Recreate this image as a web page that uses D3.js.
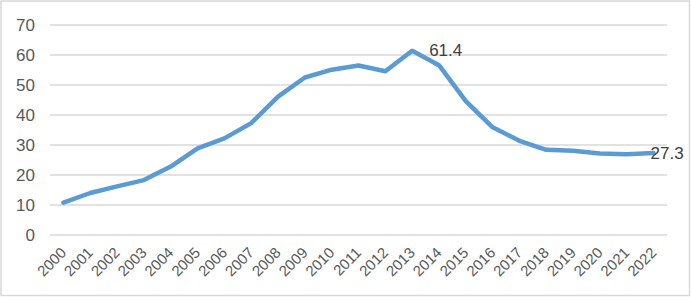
<!DOCTYPE html>
<html>
<head>
<meta charset="utf-8">
<script src="https://cdn.jsdelivr.net/npm/d3@7"></script>
<style>
  body { margin: 0; background: #fff; }
  text { font-family: "Liberation Sans", Arial, sans-serif; }
</style>
</head>
<body>
<div id="wrapper"></div>
<script>
const years = ["2000","2001","2002","2003","2004","2005","2006","2007","2008","2009","2010",
    "2011","2012","2013","2014","2015","2016","2017","2018","2019","2020","2021","2022"];
const values = [10.8, 14.0, 16.2, 18.3, 22.8, 28.9, 32.2, 37.3, 46.1, 52.5, 55.1,
    56.5, 54.6, 61.4, 56.6, 44.6, 35.9, 31.4, 28.4, 28.1, 27.2, 26.9, 27.3];
const yTicks = [0, 10, 20, 30, 40, 50, 60, 70];
const labelled = ["2013", "2022"];

const dimension = {
    width: 691,
    height: 297,
    margin: { top: 25, left: 50, bottom: 62, right: 24 }
};
dimension.boundedWidth = dimension.width - dimension.margin.left - dimension.margin.right;
dimension.boundedHeight = dimension.height - dimension.margin.top - dimension.margin.bottom;

const wrapper = d3.select("#wrapper")
    .append("svg")
    .attr("width", dimension.width)
    .attr("height", dimension.height);

// outer chart border
wrapper.append("rect")
    .attr("x", 1).attr("y", 1)
    .attr("width", dimension.width - 2.5)
    .attr("height", dimension.height - 2.5)
    .attr("fill", "none")
    .attr("stroke", "#d9d9d9")
    .attr("stroke-width", 1.5);

const bounded = wrapper.append("g")
    .attr("transform", `translate(${dimension.margin.left},${dimension.margin.top})`);

const xScaler = d3.scaleBand()
    .domain(years)
    .range([0, dimension.boundedWidth]);

const yScaler = d3.scaleLinear()
    .domain([0, 70])
    .range([dimension.boundedHeight, 0]);

const xCenter = d => xScaler(d) + xScaler.bandwidth() / 2;

// gridlines
bounded.append("g")
    .selectAll("line")
    .data(yTicks)
    .join("line")
    .attr("x1", 0)
    .attr("x2", dimension.boundedWidth)
    .attr("y1", d => yScaler(d))
    .attr("y2", d => yScaler(d))
    .attr("stroke", "#d9d9d9")
    .attr("stroke-width", 1.5);

// y axis labels
const yAxis = bounded.append("g")
    .call(d3.axisLeft(yScaler).tickValues(yTicks).tickSize(0).tickPadding(15));
yAxis.select(".domain").remove();
yAxis.selectAll("text")
    .attr("fill", "#595959")
    .attr("font-size", "17px")
    .style("font-family", "Liberation Sans, Arial, sans-serif");

// x axis labels
const xAxis = bounded.append("g")
    .attr("transform", `translate(0,${dimension.boundedHeight})`)
    .call(d3.axisBottom(xScaler).tickSize(0));
xAxis.select(".domain").remove();
xAxis.selectAll("text")
    .attr("fill", "#595959")
    .attr("font-size", "15px")
    .style("font-family", "Liberation Sans, Arial, sans-serif")
    .attr("text-anchor", "end")
    .attr("y", 0)
    .attr("dy", "0.35em")
    .attr("transform", "translate(0,15) rotate(-45)");

// line
const lineGen = d3.line()
    .x((d, i) => xCenter(years[i]))
    .y(d => yScaler(d));

bounded.append("path")
    .datum(values)
    .attr("d", lineGen)
    .attr("fill", "none")
    .attr("stroke", "#5b9bd5")
    .attr("stroke-width", 4.5)
    .attr("stroke-linejoin", "round")
    .attr("stroke-linecap", "round");

// data labels
const labelOffset = { "2013": [17, -1], "2022": [-3, 0] };
bounded.append("g")
    .selectAll("text")
    .data(labelled)
    .join("text")
    .attr("x", d => xCenter(d) + labelOffset[d][0])
    .attr("y", d => yScaler(values[years.indexOf(d)]) + labelOffset[d][1])
    .attr("dy", "0.35em")
    .attr("fill", "#404040")
    .attr("font-size", "17px")
    .text(d => values[years.indexOf(d)].toFixed(1));
</script>
</body>
</html>
